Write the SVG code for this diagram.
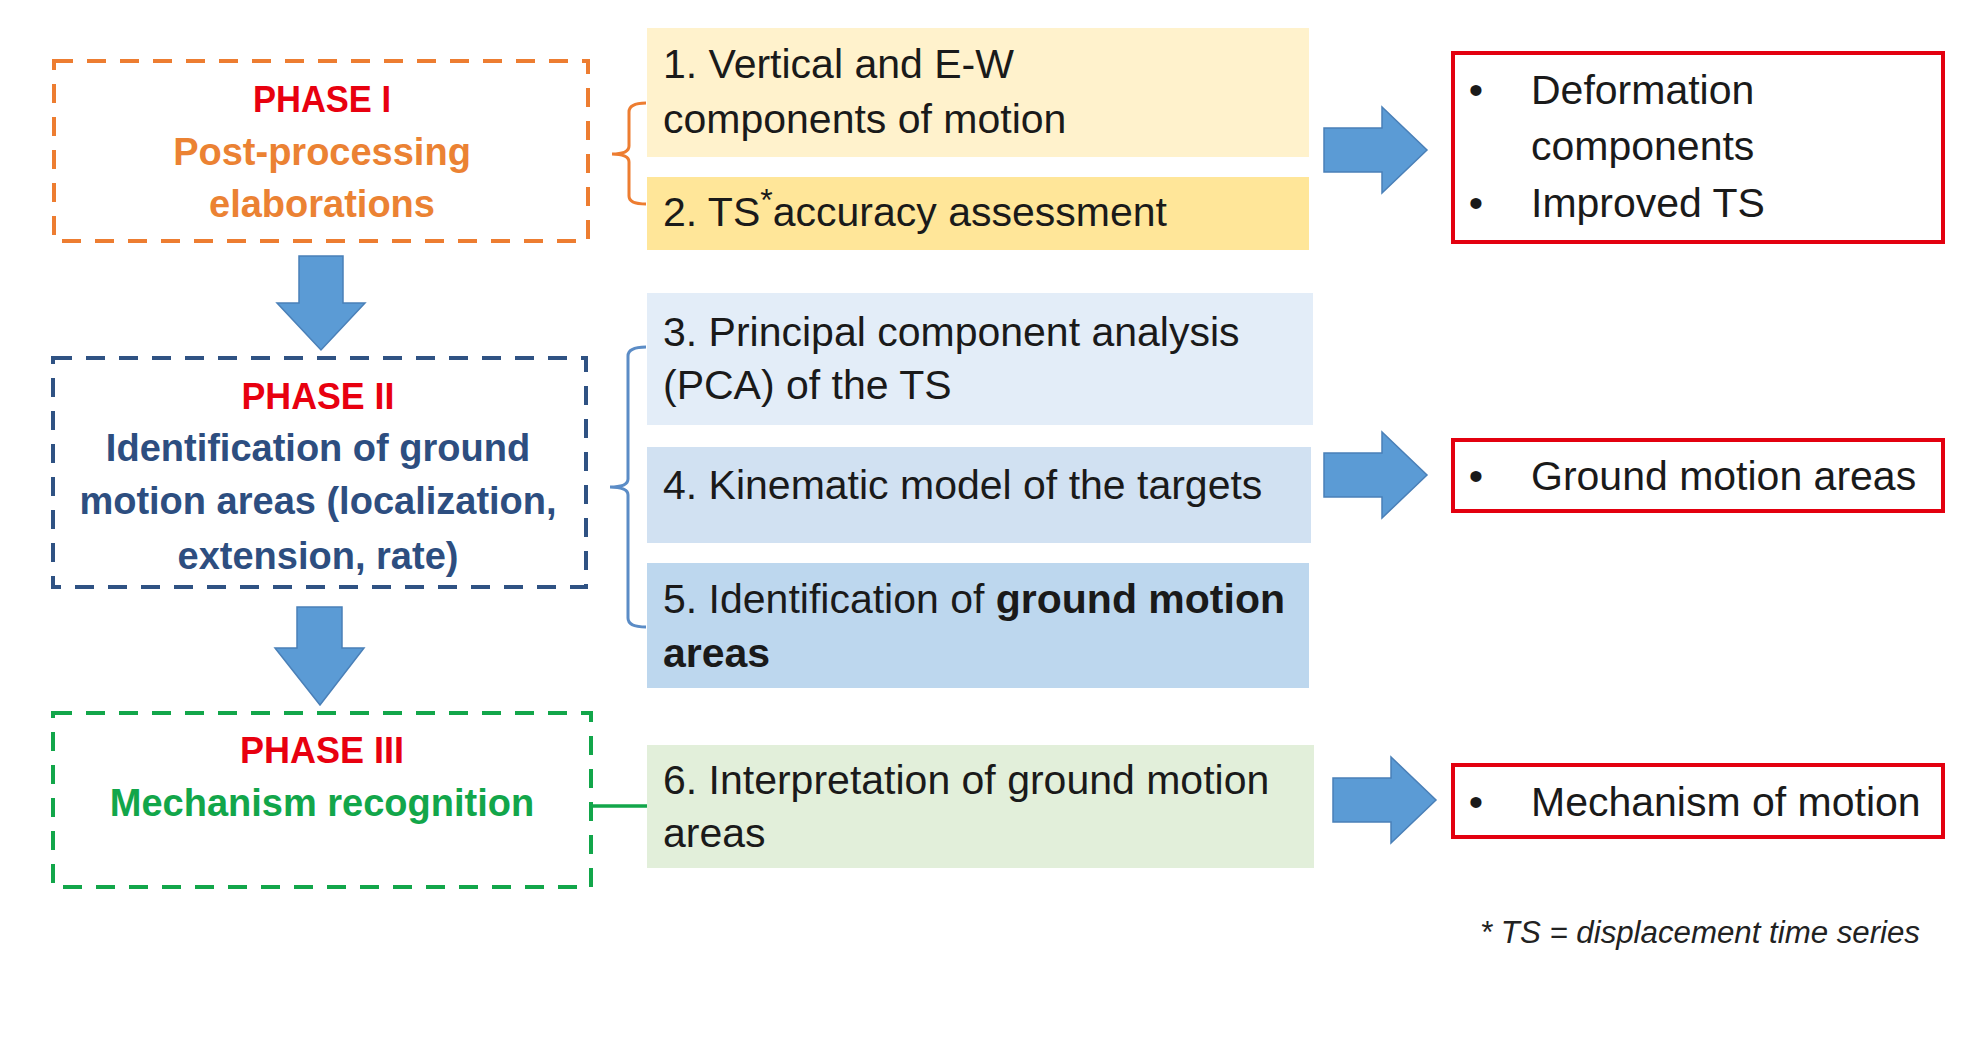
<svg xmlns="http://www.w3.org/2000/svg" width="1973" height="1052" viewBox="0 0 1973 1052">
<style>
text{font-family:"Liberation Sans",Arial,sans-serif}
.t{font-size:41px;fill:#1a1a1a}
.b{font-weight:bold}
.ph{font-size:37px;font-weight:bold;fill:#E8000F;text-anchor:middle}
.pt{font-size:38px;font-weight:bold;text-anchor:middle}
.dash{fill:none;stroke-width:4;stroke-dasharray:19 14}
.out{fill:#fff;stroke:#E3000F;stroke-width:4}
.arr{fill:#5B9BD5;stroke:#4A80B8;stroke-width:1.5}
.foot{font-size:31px;font-style:italic;fill:#222}
</style>
<rect width="1973" height="1052" fill="#fff"/>

<g id="phase1">
<rect class="dash" x="54" y="61" width="534" height="180" stroke="#ED7D31"/>
<text class="ph" x="322" y="112" textLength="138" lengthAdjust="spacingAndGlyphs">PHASE I</text>
<text class="pt" x="322" y="165" fill="#EB8233">Post-processing</text>
<text class="pt" x="322" y="217" fill="#EB8233">elaborations</text>
</g>

<g id="phase2">
<rect class="dash" x="53" y="358" width="533" height="229" stroke="#2F5283"/>
<text class="ph" x="318" y="409" textLength="153" lengthAdjust="spacingAndGlyphs">PHASE II</text>
<text class="pt" x="318" y="461" fill="#2D4E80">Identification of ground</text>
<text class="pt" x="318" y="514" fill="#2D4E80">motion areas (localization,</text>
<text class="pt" x="318" y="569" fill="#2D4E80">extension, rate)</text>
</g>

<g id="phase3">
<rect class="dash" x="53" y="713" width="538" height="174" stroke="#12A64A"/>
<text class="ph" x="322" y="763" textLength="164" lengthAdjust="spacingAndGlyphs">PHASE III</text>
<text class="pt" x="322" y="816" fill="#12A64A">Mechanism recognition</text>
</g>

<g id="step1">
<rect x="647" y="28" width="662" height="129" fill="#FFF2CC"/>
<text class="t" x="663" y="78">1. Vertical and E-W</text>
<text class="t" x="663" y="133">components of motion</text>
</g>
<g id="step2">
<rect x="647" y="177" width="662" height="73" fill="#FFE699"/>
<text class="t" x="663" y="226">2. TS<tspan font-size="32" dy="-15">*</tspan><tspan dy="15">accuracy assessment</tspan></text>
</g>
<g id="step3">
<rect x="647" y="293" width="666" height="132" fill="#E3EDF8"/>
<text class="t" x="663" y="346">3. Principal component analysis</text>
<text class="t" x="663" y="399">(PCA) of the TS</text>
</g>
<g id="step4">
<rect x="647" y="447" width="664" height="96" fill="#D1E1F2"/>
<text class="t" x="663" y="499">4. Kinematic model of the targets</text>
</g>
<g id="step5">
<rect x="647" y="563" width="662" height="125" fill="#BDD7EE"/>
<text class="t" x="663" y="613">5. Identification of <tspan class="b">ground motion</tspan></text>
<text class="t b" x="663" y="667">areas</text>
</g>
<g id="step6">
<rect x="647" y="745" width="667" height="123" fill="#E2EFDA"/>
<text class="t" x="663" y="794">6. Interpretation of ground motion</text>
<text class="t" x="663" y="847">areas</text>
</g>

<g id="out1">
<rect class="out" x="1453" y="53" width="490" height="189"/>
<text class="t" x="1476" y="104" text-anchor="middle">•</text>
<text class="t" x="1531" y="104">Deformation</text>
<text class="t" x="1531" y="160">components</text>
<text class="t" x="1476" y="217" text-anchor="middle">•</text>
<text class="t" x="1531" y="217">Improved TS</text>
</g>
<g id="out2">
<rect class="out" x="1453" y="440" width="490" height="71"/>
<text class="t" x="1476" y="490" text-anchor="middle">•</text>
<text class="t" x="1531" y="490">Ground motion areas</text>
</g>
<g id="out3">
<rect class="out" x="1453" y="765" width="490" height="72"/>
<text class="t" x="1476" y="816" text-anchor="middle">•</text>
<text class="t" x="1531" y="816">Mechanism of motion</text>
</g>

<g id="connectors">
<path d="M646,103 Q629,103 629,112 L629,146 Q629,154 612,154 Q629,154 629,162 L629,196 Q629,204 646,204" fill="none" stroke="#ED7D31" stroke-width="3"/>
<path d="M646,347 Q628,347 628,356 L628,479 Q628,487 610,487 Q628,487 628,495 L628,618 Q628,627 646,627" fill="none" stroke="#5B8CC6" stroke-width="3"/>
<line x1="591" y1="806" x2="647" y2="806" stroke="#12A64A" stroke-width="3.5"/>
<path class="arr" d="M299,256 H343 V303 H365 L321,350 L277,303 H299 Z"/>
<path class="arr" d="M297,607 H342 V648 H364 L320,705 L275,648 H297 Z"/>
<path class="arr" d="M1324,128 H1382 V107 L1427,150 L1382,193 V172 H1324 Z"/>
<path class="arr" d="M1324,453 H1382 V432 L1427,475 L1382,518 V497 H1324 Z"/>
<path class="arr" d="M1333,778 H1391 V757 L1436,800 L1391,843 V822 H1333 Z"/>
</g>

<text class="foot" x="1480" y="943" textLength="440" lengthAdjust="spacingAndGlyphs">* TS = displacement time series</text>
</svg>
